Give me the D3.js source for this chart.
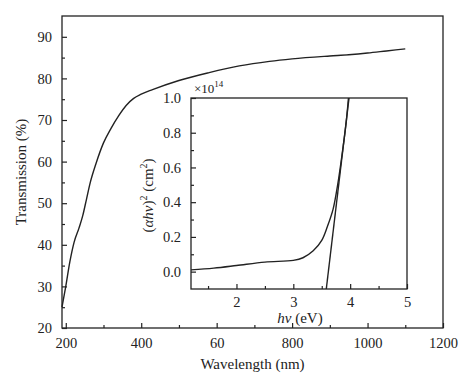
<!DOCTYPE html>
<html>
<head>
<meta charset="utf-8">
<script src="https://cdn.jsdelivr.net/npm/d3@7"></script>
<style>
  body { margin: 0; background: #fff; }
  svg text { font-family: "Liberation Serif", "DejaVu Serif", serif; fill: #222; }
</style>
</head>
<body>
<div id="chart"></div>
<script>
// main transmission spectrum
const wavelength = [190, 200, 211, 222, 235, 245, 255, 265, 280, 300, 320, 340, 360, 380, 400, 430, 500, 580, 660, 740, 800, 900, 950, 1000, 1050, 1100];
const transmission = [25.0, 30.0, 36.0, 40.6, 44.0, 47.0, 51.0, 55.0, 59.5, 64.5, 68.0, 71.0, 73.5, 75.2, 76.2, 77.3, 79.5, 81.4, 83.0, 84.1, 84.7, 85.4, 85.7, 86.1, 86.6, 87.1];
const mainXTicks = [200, 400, 600, 800, 1000, 1200];
const mainXTickLabels = ["200", "400", "60", "800", "1000", "1200"];
const mainYTicks = [20, 30, 40, 50, 60, 70, 80, 90];

// inset Tauc plot
const photonEnergy = [1.2, 1.6, 2.0, 2.5, 3.0, 3.17, 3.35, 3.5, 3.6, 3.7, 3.78, 3.86, 3.93, 3.97];
const alphaHv2 = [0.01, 0.02, 0.035, 0.055, 0.065, 0.08, 0.12, 0.18, 0.26, 0.36, 0.5, 0.68, 0.86, 1.0];
const tangentE = [3.58, 3.98];
const tangentY = [-0.1, 1.0];
const insetXTicks = [2, 3, 4, 5];
const insetYTicks = [0.0, 0.2, 0.4, 0.6, 0.8, 1.0];

const width = 474, height = 391;
const svg = d3.select("#chart").append("svg")
    .attr("width", width)
    .attr("height", height);

const m = {left: 62, top: 16, right: 443, bottom: 328};
const x = d3.scaleLinear().domain([190, 1200]).range([m.left, m.right]);
const y = d3.scaleLinear().domain([20, 95]).range([m.bottom, m.top]);

const ink = "#222";

// frame
svg.append("rect")
    .attr("x", m.left).attr("y", m.top)
    .attr("width", m.right - m.left).attr("height", m.bottom - m.top)
    .attr("fill", "none").attr("stroke", ink).attr("stroke-width", 1.3);

function ticksIn(g) {
    g.select(".domain").remove();
    g.selectAll("line").attr("stroke", ink).attr("stroke-width", 1.2);
    g.selectAll("text").attr("font-size", 14.5);
}

// main x axis
svg.append("g")
    .attr("transform", `translate(0,${m.bottom})`)
    .call(d3.axisBottom(x).tickValues(mainXTicks).tickSizeInner(-5).tickSizeOuter(0)
        .tickPadding(10).tickFormat((d, i) => mainXTickLabels[i]))
    .call(ticksIn);
svg.append("g")
    .attr("transform", `translate(0,${m.bottom})`)
    .call(d3.axisBottom(x).tickValues([300, 500, 700, 900, 1100]).tickSizeInner(-3).tickSizeOuter(0).tickFormat(""))
    .call(ticksIn);

// main y axis
svg.append("g")
    .attr("transform", `translate(${m.left},0)`)
    .call(d3.axisLeft(y).tickValues(mainYTicks).tickSizeInner(-5).tickSizeOuter(0).tickPadding(10))
    .call(ticksIn);
svg.append("g")
    .attr("transform", `translate(${m.left},0)`)
    .call(d3.axisLeft(y).tickValues([25, 35, 45, 55, 65, 75, 85]).tickSizeInner(-3).tickSizeOuter(0).tickFormat(""))
    .call(ticksIn);

svg.append("text")
    .attr("x", (m.left + m.right) / 2).attr("y", 369)
    .attr("text-anchor", "middle").attr("font-size", 15)
    .text("Wavelength (nm)");

svg.append("text")
    .attr("transform", "translate(26,172) rotate(-90)")
    .attr("text-anchor", "middle").attr("font-size", 15)
    .text("Transmission (%)");

svg.append("path")
    .datum(wavelength.map((w, i) => [w, transmission[i]]))
    .attr("fill", "none").attr("stroke", ink).attr("stroke-width", 1.4)
    .attr("d", d3.line().x(d => x(d[0])).y(d => y(d[1])).curve(d3.curveMonotoneX));

// inset
const im = {left: 191, top: 98, right: 407, bottom: 289};
const ix = d3.scaleLinear().domain([1.2, 5]).range([im.left, im.right]);
const iy = d3.scaleLinear().domain([-0.1, 1.0]).range([im.bottom, im.top]);

svg.append("rect")
    .attr("x", im.left).attr("y", im.top)
    .attr("width", im.right - im.left).attr("height", im.bottom - im.top)
    .attr("fill", "#fff").attr("stroke", ink).attr("stroke-width", 1.3);

svg.append("g")
    .attr("transform", `translate(0,${im.bottom})`)
    .call(d3.axisBottom(ix).tickValues(insetXTicks).tickSizeInner(-5).tickSizeOuter(0).tickPadding(8).tickFormat(d3.format("d")))
    .call(ticksIn);
svg.append("g")
    .attr("transform", `translate(0,${im.bottom})`)
    .call(d3.axisBottom(ix).tickValues([1.5, 2.5, 3.5, 4.5]).tickSizeInner(-3).tickSizeOuter(0).tickFormat(""))
    .call(ticksIn);

svg.append("g")
    .attr("transform", `translate(${im.left},0)`)
    .call(d3.axisLeft(iy).tickValues(insetYTicks).tickSizeInner(-5).tickSizeOuter(0).tickPadding(10).tickFormat(d3.format(".1f")))
    .call(ticksIn);
svg.append("g")
    .attr("transform", `translate(${im.left},0)`)
    .call(d3.axisLeft(iy).tickValues([0.1, 0.3, 0.5, 0.7, 0.9]).tickSizeInner(-3).tickSizeOuter(0).tickFormat(""))
    .call(ticksIn);

const exp = svg.append("text")
    .attr("x", im.left + 3).attr("y", im.top - 5)
    .attr("font-size", 13);
exp.append("tspan").text("×10");
exp.append("tspan").attr("font-size", 9).attr("dy", -6).text("14");

const xl = svg.append("text")
    .attr("x", (im.left + im.right) / 2 + 1).attr("y", 323)
    .attr("text-anchor", "middle").attr("font-size", 15);
xl.append("tspan").attr("font-style", "italic").text("hν");
xl.append("tspan").text(" (eV)");

const yl = svg.append("text")
    .attr("transform", `translate(153,${(im.top + im.bottom) / 2 + 2}) rotate(-90)`)
    .attr("text-anchor", "middle").attr("font-size", 15);
yl.append("tspan").text("(");
yl.append("tspan").attr("font-style", "italic").text("αhν");
yl.append("tspan").text(")");
yl.append("tspan").attr("font-size", 10).attr("dy", -6).text("2");
yl.append("tspan").attr("dy", 6).text(" (cm");
yl.append("tspan").attr("font-size", 10).attr("dy", -6).text("2");
yl.append("tspan").attr("dy", 6).text(")");

svg.append("clipPath").attr("id", "inset-clip")
    .append("rect")
    .attr("x", im.left).attr("y", im.top)
    .attr("width", im.right - im.left).attr("height", im.bottom - im.top);

const ig = svg.append("g").attr("clip-path", "url(#inset-clip)");
ig.append("path")
    .datum(photonEnergy.map((e, i) => [e, alphaHv2[i]]))
    .attr("fill", "none").attr("stroke", ink).attr("stroke-width", 1.4)
    .attr("d", d3.line().x(d => ix(d[0])).y(d => iy(d[1])).curve(d3.curveCatmullRom));
ig.append("path")
    .datum(tangentE.map((e, i) => [e, tangentY[i]]))
    .attr("fill", "none").attr("stroke", ink).attr("stroke-width", 1.4)
    .attr("d", d3.line().x(d => ix(d[0])).y(d => iy(d[1])));
</script>
</body>
</html>
